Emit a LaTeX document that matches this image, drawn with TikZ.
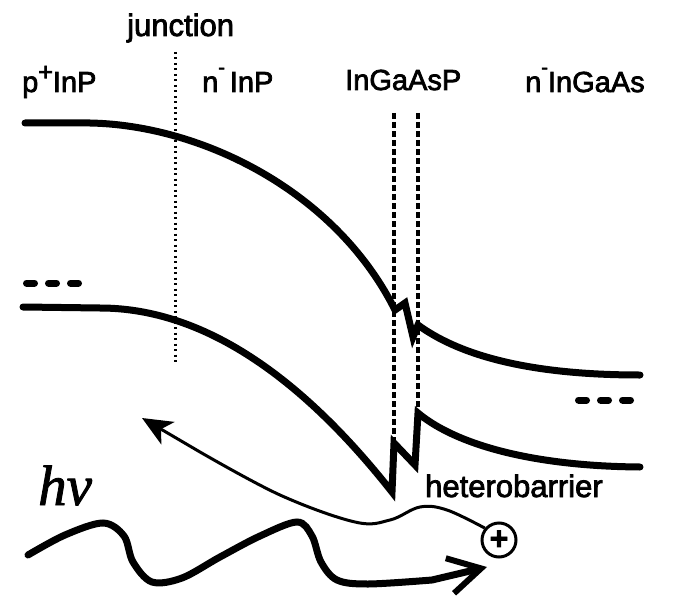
\documentclass[tikz,border=0pt]{standalone}
\usepackage{fontspec}
\setmainfont{Liberation Sans}
\newfontfamily\labfont{Liberation Sans}[FakeBold=2.5]
\newfontfamily\hvfont{Liberation Serif}[FakeBold=1.5]
\usetikzlibrary{arrows.meta}
\newcommand{\supplus}{\raisebox{0.40em}{\fontsize{25}{25}\selectfont +}}
\newcommand{\supminus}{\raisebox{0.62em}{\fontsize{20}{20}\selectfont -}}
\begin{document}
\begin{tikzpicture}[x=1pt,y=-1pt,
  band/.style={line width=7pt,line cap=round,line join=miter},
  level/.style={line width=7pt,line cap=round,dash pattern=on 8pt off 14pt},
  iface/.style={line width=3.5pt,dash pattern=on 6pt off 3pt},
  junc/.style={line width=3pt,dash pattern=on 2pt off 3.5pt},
  lab/.style={inner sep=0pt,anchor=base west,font=\labfont\fontsize{29}{29}\selectfont},
  biglab/.style={inner sep=0pt,anchor=base west,font=\labfont\fontsize{31}{31}\selectfont},
  hole/.style={draw,circle,line width=3pt,minimum size=34pt,inner sep=0pt,font=\labfont\bfseries\fontsize{32}{32}\selectfont},
  holepath/.style={line width=3pt,-{Stealth[length=30pt,width=26pt,inset=8pt]}},
  photon/.style={line width=7pt,line cap=round,-{Straight Barb[length=32pt,width=36pt,line width=6pt]}}]
\useasboundingbox (0,0) rectangle (674,599);

% labels
\node[biglab] (junction) at (127,36) {junction};
\node[lab] (pinp) at (22,92) {p\supplus InP};
\node[lab] (ninp) at (202,92) {n\supminus\,InP};
\node[lab] (ingaasp) at (345,90) {InGaAsP};
\node[lab] (ningaas) at (525,92) {n\supminus InGaAs};
\node[biglab] (hetero) at (425,497) {heterobarrier};
\node[inner sep=0pt,anchor=base west,font=\hvfont\itshape\fontsize{57}{57}\selectfont] (hv) at (38,505) {hν};

% junction line
\draw[junc] (175,52) -- (175,363);

% interface dashed lines
\draw[iface] (394,113) -- (394,443);
\draw[iface] (418,113) -- (418,413);

% conduction band
\draw[band] (25,123) -- (90,123) .. controls (200,125) and (335,190) .. (395,310)
  -- (405,303) -- (413,337) -- (418,325)
  .. controls (455,352) and (520,375) .. (640,375);

% valence band
\draw[band] (23,307) -- (100,308) .. controls (197,308) and (295,369) .. (392,492)
  -- (394,443) -- (415,465) -- (418,413)
  .. controls (450,440) and (520,466) .. (640,467);

% levels
\draw[level] (26.5,283) -- (80,283);
\draw[level] (578.5,400) -- (632,400);

% hole
\node[hole] (plus) at (499,540) {+};
\coordinate (holetip) at (142,418);
\draw[holepath] plot[smooth,tension=0.6] coordinates {(plus.140) (447,510) (420,507) (390,520) (355,522) (280,495) (200,452)} -- (holetip);

% photon
\coordinate (phstart) at (28,555);
\coordinate (phtip) at (487,567);
\draw[photon] plot[smooth,tension=0.55] coordinates {(phstart) (65,535) (103,523) (124,536) (133,562) (152,582) (182,578) (220,557) (260,536) (297,522) (312,536) (321,562) (337,580) (368,584) (432,580)} -- (phtip);
\end{tikzpicture}
\end{document}
